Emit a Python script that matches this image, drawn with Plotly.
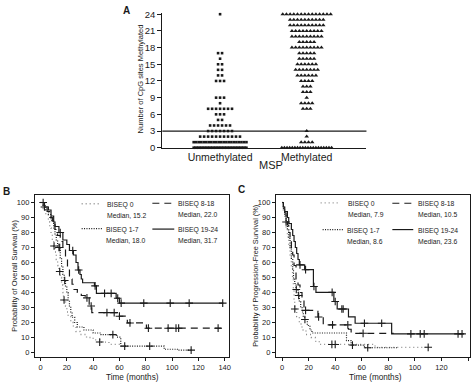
import numpy as np
import plotly.graph_objects as go

W, H = 474, 389
FONT = "Liberation Sans, Arial, sans-serif"
INK = "#1a1a1a"

# ---------------- Panel A data ----------------
cpg_levels = list(range(0, 25))
group_labels = ["Unmethylated", "Methylated"]
unmeth_counts = [35, 22, 11, 7, 6, 2, 3, 7, 1, 3, 0, 0, 3, 2, 2, 2, 1, 2, 0, 0, 0, 0, 0, 0, 1]
meth_counts = [20, 4, 1, 1, 0, 0, 0, 3, 4, 1, 3, 3, 4, 6, 7, 6, 5, 5, 9, 5, 9, 9, 10, 10, 14]
cutoff_value = 3
yticks_A = list(range(0, 25, 3))

# ---------------- Panel B (overall survival) ----------------
os_labels = ["BISEQ 0", "BISEQ 1-7", "BISEQ 8-18", "BISEQ 19-24"]
os_medians = ["15.2", "18.0", "22.0", "31.7"]
os_b0_t = [0, 2, 4, 6, 7, 8, 9, 10, 11, 12, 13, 14, 15, 16, 17, 17.5, 19, 20, 21, 23, 25, 27, 30, 35, 40, 45, 52, 60]
os_b0_s = [100, 96, 92, 87, 83, 79, 75, 71, 67, 62, 58, 54, 50, 45, 40, 35, 31, 27, 24, 20, 17, 14, 12, 10, 8.5, 7, 5.5, 4.3]
os_b0_end = 66
os_b0_cens = [10.3, 14.6, 17.9, 45]

os_b1_t = [0, 2, 4, 6, 8, 10, 11, 12, 13, 15, 16, 17, 18, 19, 20, 21, 22, 23, 24, 26, 28, 33, 40, 46, 58, 61, 94, 104]
os_b1_s = [100, 98, 95, 92, 88, 83, 79, 75, 70, 63, 57, 52, 48, 44, 40, 35, 31, 27, 23.5, 20, 17, 15, 13, 11.9, 10.2, 4.3, 2.2, 1.6]
os_b1_end = 115
os_b1_cens = [14, 14.6, 18.4, 55, 64, 83, 114.5]

os_b2_t = [0, 3, 5, 7, 9, 11, 13, 15, 17, 19, 20.5, 22, 24, 25.5, 28, 31, 34, 37, 39, 58.5, 66, 80.5]
os_b2_s = [100, 97, 94, 90, 86, 82, 78, 74, 70, 64, 57, 49, 45.5, 42, 40, 38, 36.4, 31, 26.6, 24.2, 19.7, 16.2]
os_b2_end = 137.5
os_b2_cens = [3, 35.3, 38.5, 50.5, 56, 60, 68, 82, 97, 103, 105, 135]

os_b3_t = [0, 3, 6, 8, 10, 11, 14, 17, 20, 22, 25, 27, 28.5, 30, 31, 32, 41, 42.5, 57.5, 60]
os_b3_s = [100, 97, 95, 91, 87, 84, 80, 75, 72, 68, 65, 60, 55, 52, 49, 46.5, 44.4, 39.4, 36.2, 32.9]
os_b3_end = 139
os_b3_cens = [2, 15, 24.5, 29, 41.5, 48.7, 53.7, 58.7, 61.3, 78.5, 98.6, 113, 138.5]

# ---------------- Panel C (progression-free survival) ----------------
pfs_medians = ["7.9", "8.6", "10.5", "23.6"]
pfs_b0_t = [0, 1, 2, 3, 4, 5, 6, 7, 7.9, 8.5, 9, 9.5, 11, 13, 15, 18, 22, 25, 28, 70]
pfs_b0_s = [100, 95, 89, 83, 77, 71, 64, 57, 49, 42, 35, 29, 24, 19, 15, 12, 10, 7.5, 5.4, 3.5]
pfs_b0_end = 110
pfs_b0_cens = [9.6, 37.5, 40, 110]

pfs_b1_t = [0, 1, 2, 3, 4, 5, 6, 7, 8, 8.6, 9.5, 10.5, 12, 13, 14, 15, 16, 17, 19, 21, 22.5, 48.5, 52, 62]
pfs_b1_s = [100, 96, 92, 87, 82, 76, 69, 62, 55, 49, 46, 42, 38, 34, 30, 27, 24, 22, 18, 15, 13, 8, 5, 3.2]
pfs_b1_end = 87
pfs_b1_cens = [3, 10.7, 12.5, 17.2, 53, 64.5]

pfs_b2_t = [0, 1, 2, 3, 4, 5, 6, 7, 8, 9, 10.5, 12, 13.5, 15, 16.5, 27, 31, 50, 52]
pfs_b2_s = [100, 97, 93, 89, 85, 80, 75, 70, 65, 58, 49, 45, 40, 35, 28.1, 23.7, 18.4, 15.5, 12.8]
pfs_b2_end = 84
pfs_b2_cens = [17.7, 27.5, 38, 49.5, 61]

pfs_b3_t = [0, 1, 2, 4, 5, 7, 8, 9, 10, 11, 12, 13, 17, 23.6, 25.5, 39, 41.5, 50, 55, 82.5]
pfs_b3_s = [100, 97, 94, 90, 86, 82, 78, 74, 70, 66, 62, 58.4, 55.2, 44, 40.1, 34, 29, 23.7, 19.5, 12.4]
pfs_b3_end = 137
pfs_b3_cens = [13.5, 17.7, 24, 37.7, 40, 45, 46, 62, 75, 97, 104, 107, 132.5, 135.5]

time_ticks = list(range(0, 141, 20))
surv_ticks = list(range(0, 101, 10))

# ---------------- helpers ----------------
def fx(p):
    return p / W

def fy(p):
    return 1 - p / H

STYLES = [
    dict(color="#8a8a8a", width=1.3, dash="1px,3px"),
    dict(color=INK, width=1.2, dash="1px,1.4px"),
    dict(color=INK, width=1.2, dash="7px,5px"),
    dict(color=INK, width=1.2, dash="solid"),
]

fig = go.Figure()

# ---- Panel A: dot plot ----
UNIT_PX = 87.0  # pixels per category unit on the x axis


def row_x(center, n, sp_px, span_px):
    if n <= 1:
        return [center] * n
    sp = min(sp_px, span_px / (n - 1))
    return list(center + (np.arange(n) - (n - 1) / 2) * sp / UNIT_PX)


ux, uy, mx, my = [], [], [], []
for lv, cu, cm in zip(cpg_levels, unmeth_counts, meth_counts):
    xs = row_x(1, cu, 4.0, 53)
    ux += xs
    uy += [lv] * len(xs)
    xs = row_x(2, cm, 3.7, 50)
    mx += xs
    my += [lv] * len(xs)

fig.add_trace(go.Scatter(x=ux, y=uy, mode="markers", xaxis="x", yaxis="y", cliponaxis=False,
                         marker=dict(symbol="square", size=2.6, color=INK), showlegend=False))
fig.add_trace(go.Scatter(x=mx, y=my, mode="markers", xaxis="x", yaxis="y", cliponaxis=False,
                         marker=dict(symbol="triangle-up", size=4.0, color=INK), showlegend=False))
fig.add_shape(type="line", xref="x domain", yref="y", x0=0, x1=1, y0=cutoff_value, y1=cutoff_value,
              line=dict(color=INK, width=1.2))


# ---- KM panels ----
def km_traces(t, s, end, cens, style, xa, ya):
    xs = list(t) + [end]
    ys = list(s) + [s[-1]]
    fig.add_trace(go.Scatter(x=xs, y=ys, mode="lines", line_shape="hv", xaxis=xa, yaxis=ya,
                             line=style, showlegend=False, hoverinfo="skip"))
    tt = np.array(t)
    cy = [s[int(np.searchsorted(tt, c, side="right")) - 1] for c in cens]
    fig.add_trace(go.Scatter(x=cens, y=cy, mode="markers", xaxis=xa, yaxis=ya, cliponaxis=False,
                             marker=dict(symbol="cross-thin", size=5.5,
                                         line=dict(color=INK, width=1.1)),
                             showlegend=False, hoverinfo="skip"))


os_sets = [(os_b0_t, os_b0_s, os_b0_end, os_b0_cens), (os_b1_t, os_b1_s, os_b1_end, os_b1_cens),
           (os_b2_t, os_b2_s, os_b2_end, os_b2_cens), (os_b3_t, os_b3_s, os_b3_end, os_b3_cens)]
pfs_sets = [(pfs_b0_t, pfs_b0_s, pfs_b0_end, pfs_b0_cens), (pfs_b1_t, pfs_b1_s, pfs_b1_end, pfs_b1_cens),
            (pfs_b2_t, pfs_b2_s, pfs_b2_end, pfs_b2_cens), (pfs_b3_t, pfs_b3_s, pfs_b3_end, pfs_b3_cens)]
for (t, s, e, c), st in zip(os_sets, STYLES):
    km_traces(t, s, e, c, st, "x2", "y2")
for (t, s, e, c), st in zip(pfs_sets, STYLES):
    km_traces(t, s, e, c, st, "x3", "y3")

annotations = []
shapes = []


def ann(text, x, y, size, xanchor="center", yanchor="middle", angle=0, color=INK):
    annotations.append(dict(text=text, x=fx(x), y=fy(y), xref="paper", yref="paper", showarrow=False,
                            xanchor=xanchor, yanchor=yanchor, textangle=angle, borderpad=0,
                            font=dict(family=FONT, size=size, color=color)))


ann("<b>A</b>", 127, 6, 10)
ann("<b>B</b>", 7, 191, 10)
ann("<b>C</b>", 243, 189, 10)
ann("Number of CpG sites Methylated", 141, 76, 7.5, angle=-90)
ann("MSP", 272, 164, 11)
ann("Probability of Overall Survival (%)", 15, 278, 7.5, angle=-90)
ann("Probability of Progression-Free Survival (%)", 257, 278, 7.3, angle=-90)
ann("Time (months)", 133, 382, 8.2)
ann("Time (months)", 377, 382, 8.2)

# legends: sample line x-range (px), y (px), text x (px)
leg_B = [(82, 102, 204, 106), (82, 103, 229.5, 105), (153, 172, 203.5, 178), (153, 175, 230, 178)]
leg_C = [(322, 342, 203, 348), (324, 345, 230.5, 347), (394, 414, 203.5, 419), (394, 415, 230.5, 419)]
for legs, meds in ((leg_B, os_medians), (leg_C, pfs_medians)):
    for (x0, x1, yy, tx), lab, med, st in zip(legs, os_labels, meds, STYLES):
        shapes.append(dict(type="line", xref="paper", yref="paper", x0=fx(x0), x1=fx(x1),
                           y0=fy(yy), y1=fy(yy), line=st))
        ann(lab, tx, yy + 1, 6.8, xanchor="left")
        ann("Median, " + med, tx, yy + 12, 6.8, xanchor="left")

for sh in shapes:
    fig.add_shape(**sh)

tickfont_s = dict(family=FONT, size=7.5, color=INK)
km_x = dict(tickvals=time_ticks, ticks="outside", ticklen=3, tickwidth=1, tickcolor=INK,
            showline=True, mirror=True, linecolor=INK, linewidth=1, showgrid=False, zeroline=False,
            tickfont=tickfont_s)
km_y = dict(tickvals=surv_ticks, ticks="outside", ticklen=3, tickwidth=1, tickcolor=INK,
            showline=True, mirror=True, linecolor=INK, linewidth=1, showgrid=False, zeroline=False,
            tickfont=tickfont_s, range=[-3.25, 105], domain=[fy(361.7), fy(195)])

fig.update_layout(
    width=W, height=H, margin=dict(l=0, r=0, t=0, b=0),
    paper_bgcolor="white", plot_bgcolor="white", showlegend=False,
    xaxis=dict(domain=[fx(163), fx(368)], range=[1 - (221 - 163) / UNIT_PX, 2 + (368 - 308) / UNIT_PX],
               tickvals=[1, 2], ticktext=group_labels, ticks="", showline=True, linecolor=INK,
               linewidth=1.3, showgrid=False, zeroline=False,
               tickfont=dict(family=FONT, size=10.5, color=INK)),
    yaxis=dict(domain=[fy(146.5), fy(8.3)], range=[0, 24.2], tickvals=yticks_A, ticks="outside",
               ticklen=4, tickcolor=INK, showline=True, linecolor=INK, linewidth=1.3, showgrid=False,
               zeroline=False, tickfont=dict(family=FONT, size=9.5, color=INK),
               tickprefix="<b>", ticksuffix="</b>"),
    xaxis2=dict(domain=[fx(35), fx(230)], range=[-4.3, 143.3], anchor="y2", **km_x),
    yaxis2=dict(anchor="x2", **km_y),
    xaxis3=dict(domain=[fx(277), fx(472)], range=[-4.7, 141.5], anchor="y3", **km_x),
    yaxis3=dict(anchor="x3", **km_y),
    annotations=annotations,
)

fig.write_html("out.html", config={"displayModeBar": False},
               post_script="document.body.style.margin='0px';")
